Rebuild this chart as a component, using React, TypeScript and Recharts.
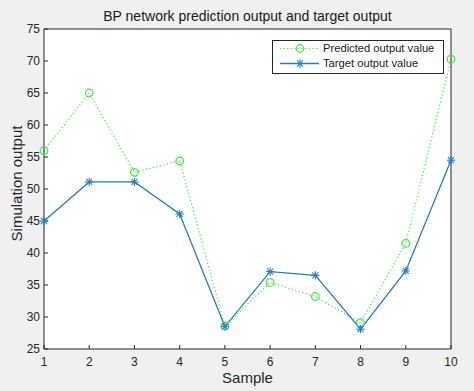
import React from "react";
import { LineChart, Line, XAxis, YAxis, CartesianGrid } from "recharts";

const samples = [1, 2, 3, 4, 5, 6, 7, 8, 9, 10];
const predicted = [56, 65, 52.6, 54.4, 28.6, 35.4, 33.2, 29.1, 41.5, 70.3];
const target = [45, 51.1, 51.1, 46.1, 28.5, 37.1, 36.5, 28.1, 37.2, 54.5];
const xTicks = [1, 2, 3, 4, 5, 6, 7, 8, 9, 10];
const yTicks = [25, 30, 35, 40, 45, 50, 55, 60, 65, 70, 75];

const data = samples.map((s, i) => ({ sample: s, predicted: predicted[i], target: target[i] }));

const GREEN = "#3fe43f";
const BLUE = "#2a7bc0";
const AXIS = "#262626";
const FONT = "'Liberation Sans', Arial, Helvetica, sans-serif";

function CircleDot(props: any) {
	const { cx, cy, index } = props;
	return <circle key={`c-${index}`} cx={cx} cy={cy} r={3.8} fill="none" stroke={GREEN} strokeWidth={1.2} />;
}

function StarDot(props: any) {
	const { cx, cy, index } = props;
	const s = 4.2;
	const d = s * 0.72;
	return (
		<g key={`s-${index}`} stroke={BLUE} strokeWidth={1.1}>
			<line x1={cx - s} y1={cy} x2={cx + s} y2={cy} />
			<line x1={cx} y1={cy - s} x2={cx} y2={cy + s} />
			<line x1={cx - d} y1={cy - d} x2={cx + d} y2={cy + d} />
			<line x1={cx - d} y1={cy + d} x2={cx + d} y2={cy - d} />
		</g>
	);
}

export default function App() {
	const tickStyle = { fill: AXIS, fontSize: 12, fontFamily: FONT };
	return (
		<div style={{ position: "relative", width: 474, height: 391, background: "#f0f0f0", fontFamily: FONT }}>
			<style>{`body{margin:0}`}</style>
			<LineChart width={474} height={391} data={data} margin={{ top: 0, right: 0, bottom: 0, left: 0 }}>
				<CartesianGrid fill="#ffffff" horizontal={false} vertical={false} />
				<XAxis
					xAxisId="b"
					dataKey="sample"
					type="number"
					domain={[1, 10]}
					ticks={xTicks}
					height={42}
					stroke={AXIS}
					tickSize={-4}
					tickMargin={12}
					tick={tickStyle}
					interval={0}
				/>
				<XAxis
					xAxisId="t"
					orientation="top"
					dataKey="sample"
					type="number"
					domain={[1, 10]}
					ticks={xTicks}
					height={29}
					stroke={AXIS}
					tickSize={-4}
					tick={false}
					interval={0}
				/>
				<YAxis
					yAxisId="l"
					domain={[25, 75]}
					ticks={yTicks}
					width={44}
					stroke={AXIS}
					tickSize={-4}
					tickMargin={8}
					tick={tickStyle}
					interval={0}
				/>
				<YAxis
					yAxisId="r"
					orientation="right"
					domain={[25, 75]}
					ticks={yTicks}
					width={23}
					stroke={AXIS}
					tickSize={-4}
					tick={false}
					interval={0}
				/>
				<Line
					xAxisId="b"
					yAxisId="l"
					dataKey="predicted"
					type="linear"
					stroke={GREEN}
					strokeWidth={1.2}
					strokeDasharray="1.2 2.4"
					dot={CircleDot}
					activeDot={false}
					isAnimationActive={false}
				/>
				<Line
					xAxisId="b"
					yAxisId="l"
					dataKey="target"
					type="linear"
					stroke={BLUE}
					strokeWidth={1.3}
					dot={StarDot}
					activeDot={false}
					isAnimationActive={false}
				/>
			</LineChart>

			<div style={{ position: "absolute", left: 0, top: 9, width: 495, textAlign: "center", fontSize: 14, lineHeight: 1, color: "#1a1a1a", whiteSpace: "nowrap" }}>
				BP network prediction output and target output
			</div>
			<div style={{ position: "absolute", left: 147.5, top: 370, width: 200, textAlign: "center", fontSize: 15, lineHeight: 1, color: AXIS }}>
				Sample
			</div>
			<div
				style={{
					position: "absolute",
					left: 15.5 - 100,
					top: 183 - 7.5,
					width: 200,
					height: 15,
					textAlign: "center",
					fontSize: 15,
					lineHeight: 1,
					color: AXIS,
					transform: "rotate(-90deg)",
					whiteSpace: "nowrap",
				}}
			>
				Simulation output
			</div>

			<div
				style={{
					position: "absolute",
					left: 272,
					top: 40,
					width: 170,
					height: 32,
					background: "#ffffff",
					border: `1px solid ${AXIS}`,
					fontSize: 11.2,
					color: "#1a1a1a",
				}}
			>
				<svg width={50} height={32} style={{ position: "absolute", left: 0, top: 0 }}>
					<line x1={7} y1={7.5} x2={46} y2={7.5} stroke={GREEN} strokeWidth={1.2} strokeDasharray="1.2 2.4" />
					<circle cx={27} cy={7.5} r={3.8} fill="none" stroke={GREEN} strokeWidth={1.2} />
					<line x1={7} y1={22.5} x2={46} y2={22.5} stroke={BLUE} strokeWidth={1.3} />
					<StarDot cx={27} cy={22.5} index={0} />
				</svg>
				<div style={{ position: "absolute", left: 50, top: 1, lineHeight: "13px", whiteSpace: "nowrap" }}>Predicted output value</div>
				<div style={{ position: "absolute", left: 50, top: 16, lineHeight: "13px", whiteSpace: "nowrap" }}>Target output value</div>
			</div>
		</div>
	);
}
